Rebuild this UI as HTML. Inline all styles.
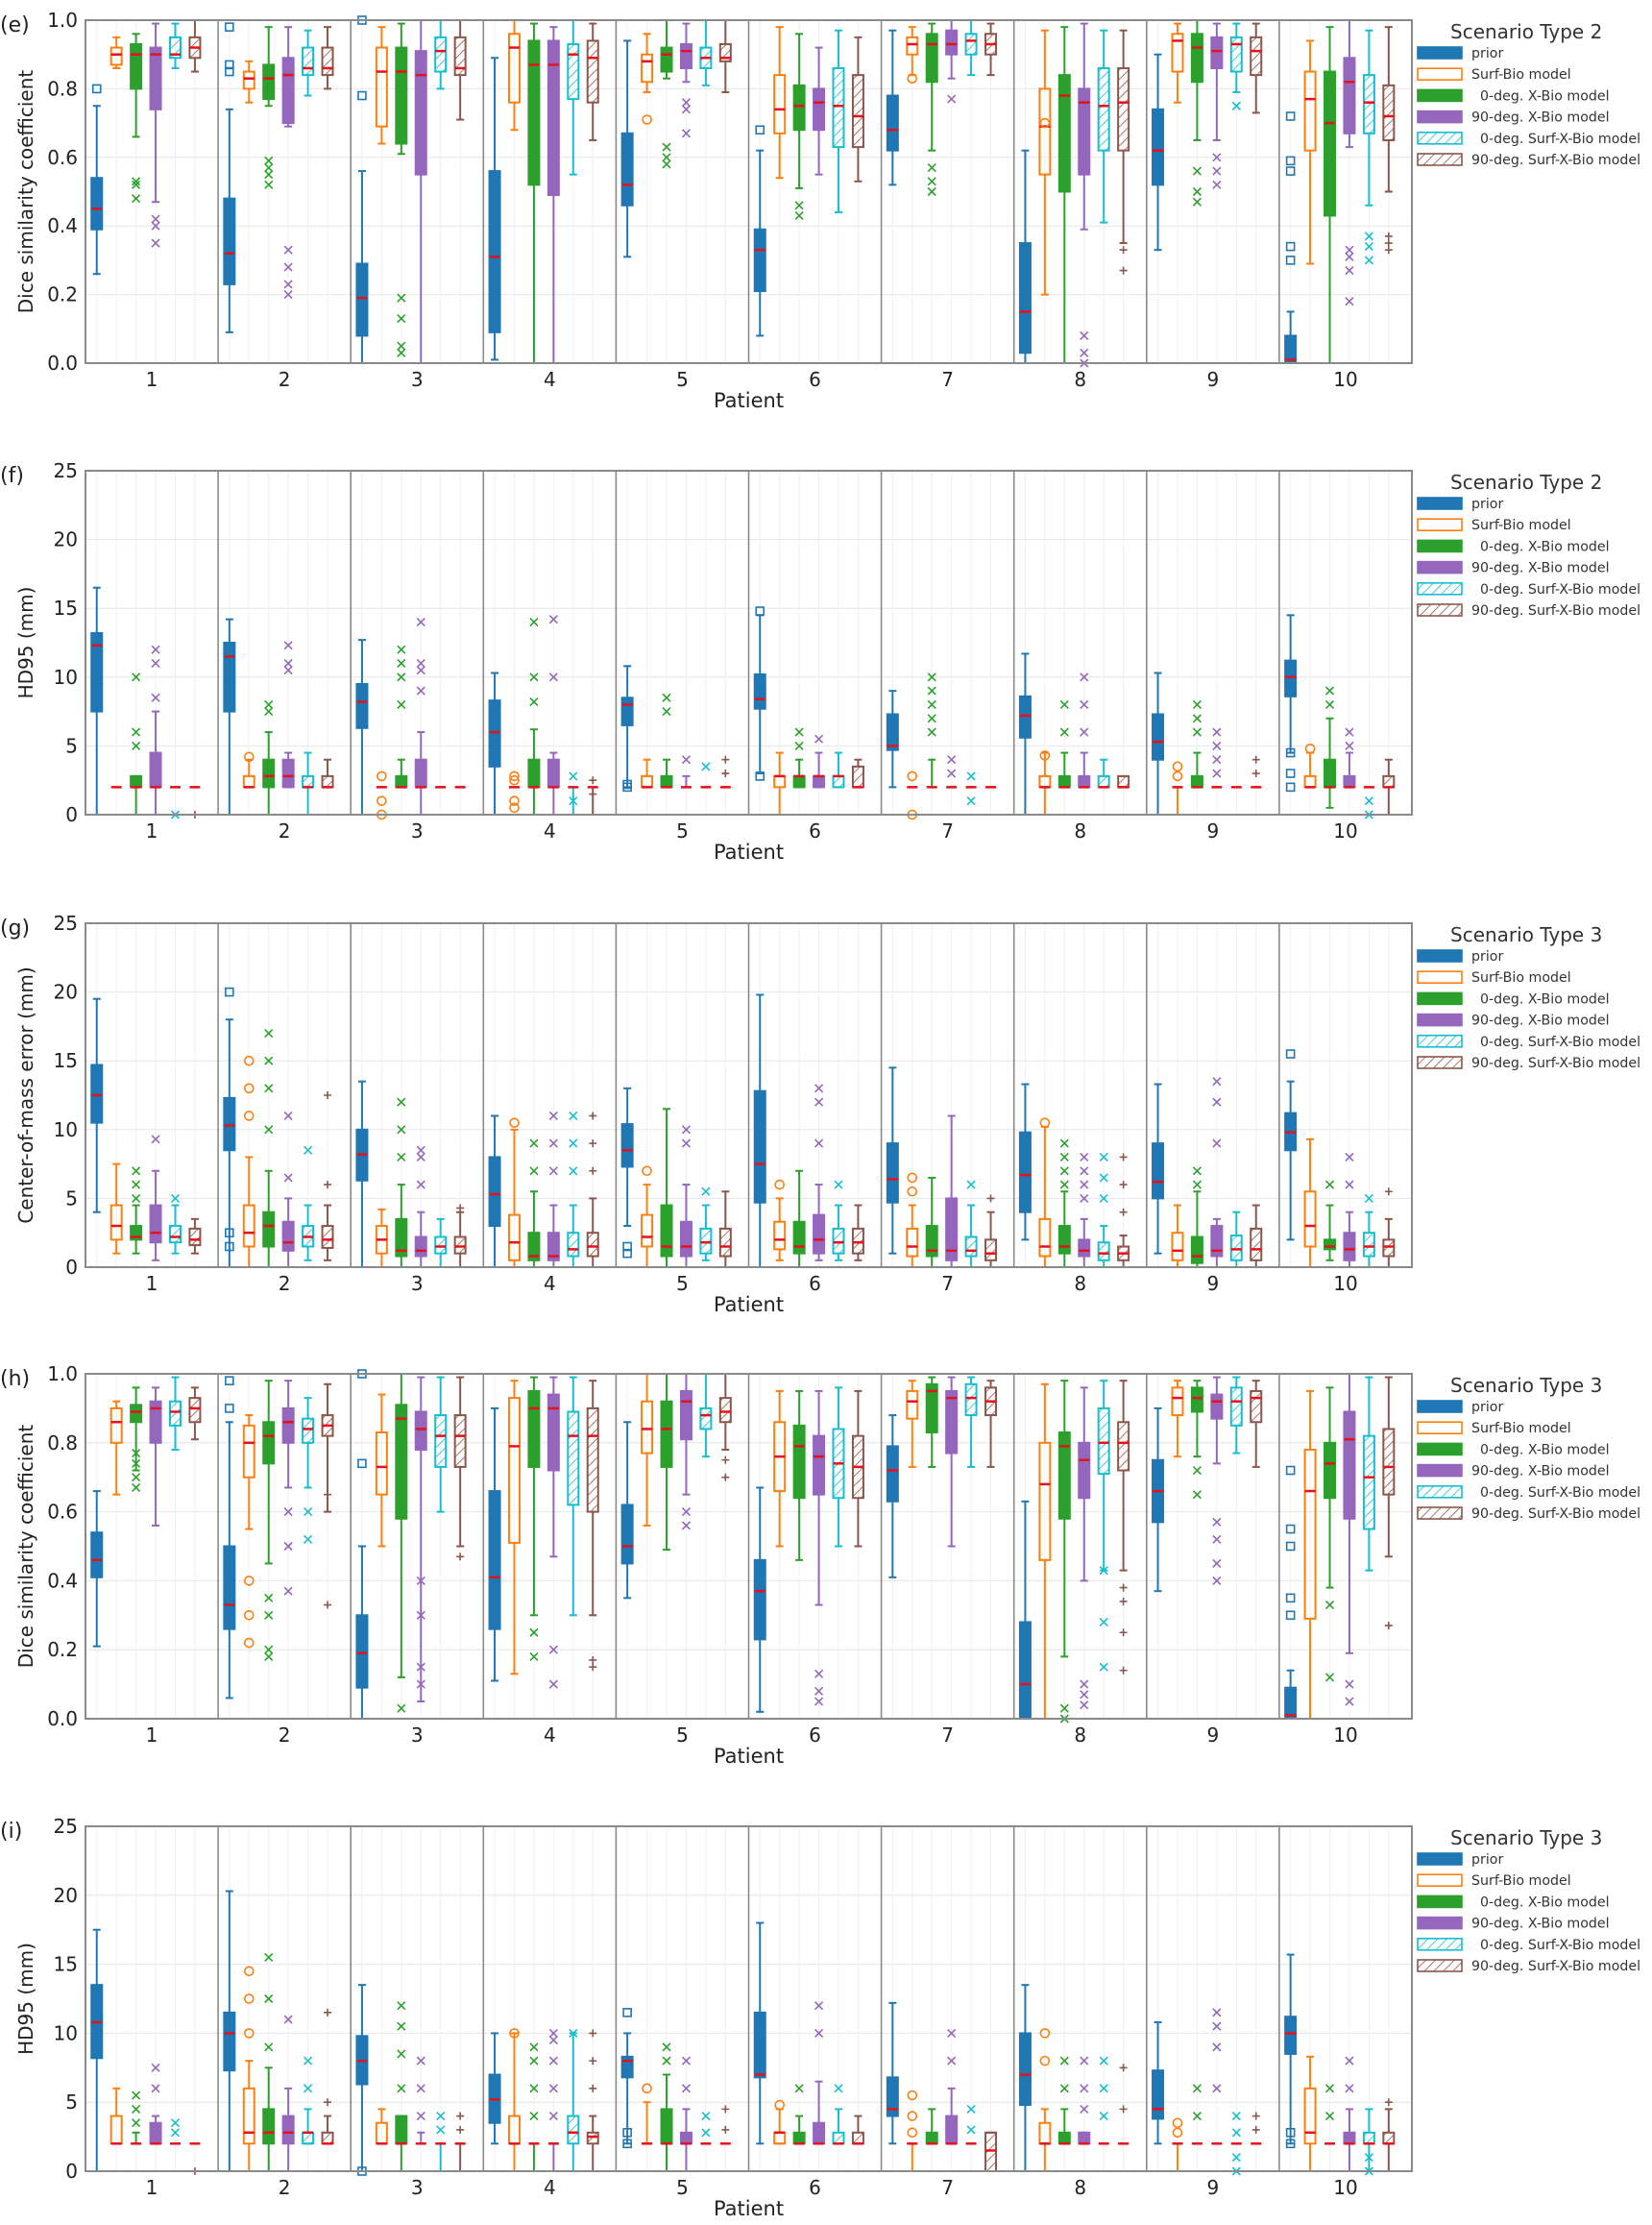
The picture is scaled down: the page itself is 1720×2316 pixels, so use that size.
<!DOCTYPE html>
<html><head><meta charset="utf-8">
<style>
html,body{margin:0;padding:0;background:#fff;}
svg{display:block;font-family:"DejaVu Sans","Liberation Sans",sans-serif;}
</style></head>
<body>
<svg id="s" width="1720" height="2316" viewBox="0 0 1720 2316" xmlns="http://www.w3.org/2000/svg">
<defs>
<pattern id="hc" patternUnits="userSpaceOnUse" width="7" height="7" patternTransform="rotate(45)"><line x1="0" y1="0" x2="0" y2="7" stroke="#17becf" stroke-width="1.6"/></pattern>
<pattern id="hb" patternUnits="userSpaceOnUse" width="7" height="7" patternTransform="rotate(45)"><line x1="0" y1="0" x2="0" y2="7" stroke="#8c564b" stroke-width="1.6"/></pattern>
</defs>
</svg>
<script>
const S=document.getElementById('s');
let out='';
const C=['#1f77b4','#ff7f0e','#2ca02c','#9467bd','#17becf','#8c564b'];
const FILL=['#1f77b4','none','#2ca02c','#9467bd','url(#hc)','url(#hb)'];
const MK=['sq','ci','x','x','x','+'];
const L=89,R=1470,GW=(R-L)/10;
const labels=['prior','Surf-Bio model','  0-deg. X-Bio model','90-deg. X-Bio model','  0-deg. Surf-X-Bio model','90-deg. Surf-X-Bio model'];
function panel(o){
 const top=o.top,bot=o.bot,H=bot-top,max=o.max;
 const Y=v=>bot-v/max*H;
 for(let t=0;t<=max+1e-9;t+=o.step){out+=`<line x1="${L}" x2="${R}" y1="${Y(t)}" y2="${Y(t)}" stroke="#e6e6e6" stroke-width="1"/>`;}
 for(let g=0;g<10;g++)for(let i=0;i<6;i++){const x=L+g*GW+GW*(0.085+i*0.148);out+=`<line x1="${x}" x2="${x}" y1="${top}" y2="${bot}" stroke="#f0f0f0" stroke-width="1"/>`;}
 for(let g=1;g<10;g++){const x=L+g*GW;out+=`<line x1="${x}" x2="${x}" y1="${top}" y2="${bot}" stroke="#8a8a8a" stroke-width="1.6"/>`;}
 o.d.forEach((grp,g)=>{grp.forEach((b,i)=>{
  const x=L+g*GW+GW*(0.085+i*0.148),w=11,c=C[i];
  const [lo,q1,md,q3,hi,outs]=b;
  out+=`<line x1="${x}" x2="${x}" y1="${Y(hi)}" y2="${Y(q3)}" stroke="${c}" stroke-width="2"/>`;
  out+=`<line x1="${x}" x2="${x}" y1="${Y(q1)}" y2="${Y(lo)}" stroke="${c}" stroke-width="2"/>`;
  out+=`<line x1="${x-4}" x2="${x+4}" y1="${Y(hi)}" y2="${Y(hi)}" stroke="${c}" stroke-width="2"/>`;
  out+=`<line x1="${x-4}" x2="${x+4}" y1="${Y(lo)}" y2="${Y(lo)}" stroke="${c}" stroke-width="2"/>`;
  const h=Math.max(Y(q1)-Y(q3),0);
  if(h>0.5)out+=`<rect x="${x-w/2}" y="${Y(q3)}" width="${w}" height="${h}" fill="${FILL[i]}" stroke="${c}" stroke-width="2"/>`;
  out+=`<line x1="${x-w/2}" x2="${x+w/2}" y1="${Y(md)}" y2="${Y(md)}" stroke="#e8101a" stroke-width="2.5"/>`;
  (outs||[]).forEach(v=>{const y=Y(v);
   if(MK[i]=='sq')out+=`<rect x="${x-4}" y="${y-4}" width="8" height="8" fill="none" stroke="${c}" stroke-width="1.6"/>`;
   else if(MK[i]=='ci')out+=`<circle cx="${x}" cy="${y}" r="4.5" fill="none" stroke="${c}" stroke-width="1.6"/>`;
   else if(MK[i]=='x')out+=`<path d="M${x-4} ${y-4}L${x+4} ${y+4}M${x-4} ${y+4}L${x+4} ${y-4}" stroke="${c}" stroke-width="1.6"/>`;
   else out+=`<path d="M${x-4} ${y}L${x+4} ${y}M${x} ${y-4}L${x} ${y+4}" stroke="${c}" stroke-width="1.6"/>`;
  });
 });});
 out+=`<rect x="${L}" y="${top}" width="${R-L}" height="${H}" fill="none" stroke="#8a8a8a" stroke-width="2"/>`;
 for(let t=0;t<=max+1e-9;t+=o.step){const lab=max==1?t.toFixed(1):String(Math.round(t));out+=`<text x="${L-8}" y="${Y(t)+7}" font-size="20" text-anchor="end" fill="#222">${lab}</text>`;}
 for(let g=0;g<10;g++){out+=`<text x="${L+g*GW+GW/2}" y="${bot+24}" font-size="20" text-anchor="middle" fill="#222">${g+1}</text>`;}
 out+=`<text x="${(L+R)/2}" y="${bot+46}" font-size="21" text-anchor="middle" fill="#222">Patient</text>`;
 out+=`<text x="0" y="${top+12}" font-size="22" fill="#222">${o.tag}</text>`;
 out+=`<text transform="translate(34 ${top+H/2}) rotate(-90)" font-size="20" text-anchor="middle" fill="#222">${o.yl}</text>`;
 out+=`<text x="1510" y="${top+19}" font-size="20" fill="#333">${o.leg}</text>`;
 for(let i=0;i<6;i++){const y=top+34+i*22.2;
  out+=`<rect x="1476" y="${y-6}" width="46" height="12" fill="${FILL[i]}" stroke="${C[i]}" stroke-width="1.6"/>`;
  out+=`<text x="1532" y="${y+5}" font-size="14.2" fill="#333" xml:space="preserve">${labels[i]}</text>`;}
}
const E=[
[[.26,.39,.45,.54,.75,[.8]],[.86,.87,.9,.92,.95],[.66,.8,.9,.93,.96,[.48,.52,.53]],[.47,.74,.9,.92,.99,[.35,.4,.42]],[.86,.89,.9,.95,.99],[.85,.89,.92,.95,1]],
[[.09,.23,.32,.48,.74,[.85,.87,.98]],[.76,.8,.83,.85,.88],[.75,.77,.83,.87,.98,[.52,.55,.57,.59]],[.69,.7,.84,.89,.98,[.2,.23,.28,.33]],[.78,.84,.86,.92,.97],[.8,.84,.86,.92,.98]],
[[0,.08,.19,.29,.56,[.78,1]],[.64,.69,.85,.92,.98],[.61,.64,.85,.92,.99,[.03,.05,.13,.19]],[0,.55,.84,.91,1],[.8,.85,.91,.95,1],[.71,.84,.86,.95,1]],
[[.01,.09,.31,.56,.89],[.68,.76,.92,.96,1],[0,.52,.87,.94,.99],[0,.49,.87,.94,.98],[.55,.77,.9,.93,1],[.65,.76,.89,.94,.99]],
[[.31,.46,.52,.67,.94],[.79,.82,.88,.9,.96,[.71]],[.83,.85,.9,.92,1,[.58,.6,.63]],[.82,.86,.91,.93,.99,[.67,.74,.76]],[.81,.86,.89,.92,1],[.79,.88,.89,.93,1]],
[[.08,.21,.33,.39,.62,[.68]],[.54,.67,.74,.84,.98],[.51,.68,.75,.81,.96,[.43,.46]],[.55,.68,.76,.8,.92],[.44,.63,.75,.86,.97],[.53,.63,.72,.84,.95]],
[[.52,.62,.68,.78,.97],[.84,.9,.93,.95,.98,[.83]],[.62,.82,.93,.96,.99,[.5,.53,.57]],[.83,.9,.93,.97,1,[.77]],[.84,.9,.94,.96,1],[.84,.9,.93,.96,.99]],
[[0,.03,.15,.35,.62],[.2,.55,.69,.8,.97,[.7]],[0,.5,.78,.84,.98],[.39,.55,.76,.8,.99,[0,.03,.08]],[.41,.62,.75,.86,.97],[.35,.62,.76,.86,.97,[.27,.33]]],
[[.33,.52,.62,.74,.9],[.76,.85,.94,.96,.99],[.65,.82,.92,.96,1,[.47,.5,.56]],[.65,.86,.91,.95,.99,[.52,.56,.6]],[.79,.85,.93,.95,.99,[.75]],[.73,.84,.91,.95,.99]],
[[0,0,.01,.08,.15,[.3,.34,.56,.59,.72]],[.29,.62,.77,.85,.94],[0,.43,.7,.85,.98],[.63,.67,.82,.89,1,[.18,.27,.31,.33]],[.46,.67,.76,.84,.97,[.3,.34,.37]],[.5,.65,.72,.81,.98,[.33,.35,.37]]]];
const F=[
[[0,7.5,12.3,13.2,16.5],[2,2,2,2,2],[0,2,2,2.8,2.8,[5,6,10]],[0,2,2,4.5,7.5,[8.5,11,12]],[2,2,2,2,2,[0]],[2,2,2,2,2,[0]]],
[[0,7.5,11.5,12.5,14.2],[2,2,2,2.8,4,[4.2]],[0,2,2.8,4,6,[7.5,8]],[2,2,2.8,4,4.5,[10.5,11,12.3]],[0,2,2,2.8,4.5],[2,2,2,2.8,4]],
[[0,6.3,8.2,9.5,12.7],[2,2,2,2,2,[0,1,2.8]],[2,2,2,2.8,4,[8,10,11,12]],[0,2,2,4,6,[9,10.5,11,14]],[2,2,2,2,2],[2,2,2,2,2]],
[[0,3.5,6,8.3,10.3],[2,2,2,2,2,[.5,1,2.5,2.8]],[0,2,2,4,6.2,[8.2,10,14]],[0,2,2,4,4.5,[10,14.2]],[0,2,2,2,2,[1,2.8]],[0,2,2,2,2,[1.5,2.5]]],
[[2,6.5,8,8.5,10.8,[2,2.2]],[2,2,2,2.8,4],[2,2,2,2.8,4,[7.5,8.5]],[2,2,2,2,2.8,[4]],[2,2,2,2,2,[3.5]],[2,2,2,2,2,[3,4]]],
[[3,7.7,8.4,10.2,14.5,[2.8,14.8]],[0,2,2.8,2.8,4.5],[2,2,2.8,2.8,4,[5,6]],[2,2,2.8,2.8,4.5,[5.5]],[2,2,2.8,2.8,4.5],[2,2,2,3.5,4]],
[[2,4.7,5,7.3,9],[2,2,2,2,2,[0,2.8]],[2,2,2,2,4,[6,7,8,9,10]],[2,2,2,2,2,[3,4]],[2,2,2,2,2,[1,2.8]],[2,2,2,2,2]],
[[0,5.6,7.2,8.6,11.7],[0,2,2,2.8,4.5,[4.3]],[2,2,2,2.8,4.5,[6,8]],[2,2,2,2.8,4.5,[6,8,10]],[2,2,2,2.8,4],[2,2,2,2.8,2.8]],
[[0,4,5.3,7.3,10.3],[0,2,2,2,2,[2.8,3.5]],[2,2,2,2.8,4.5,[6,7,8]],[2,2,2,2,2,[3,4,5,6]],[2,2,2,2,2],[2,2,2,2,2,[3,4]]],
[[4.5,8.6,10,11.2,14.5,[2,3,4.5]],[2,2,2,2.8,4.5,[4.8]],[.5,2,2,4,7,[8,9]],[2,2,2,2.8,4.5,[5,6]],[2,2,2,2,2,[0,1]],[0,2,2,2.8,4]]];
const G=[
[[4,10.5,12.5,14.7,19.5],[1,2,3,4.5,7.5],[1,2,2.2,3,4.5,[5,6,7]],[.5,1.8,2.5,4.5,7,[9.3]],[1,1.8,2.2,3,4.5,[5]],[1,1.6,2,2.8,3.5]],
[[0,8.5,10.3,12.3,18,[1.5,2.5,20]],[0,1.5,2.5,4.5,8,[11,13,15]],[0,1.5,3,4,7,[10,13,15,17]],[0,1.2,1.8,3.3,5,[6.5,11]],[.5,1.5,2.2,3,4.5,[8.5]],[.5,1.4,2,3,4.5,[6,12.5]]],
[[0,6.3,8.2,10,13.5],[0,1,2,3,4.2],[0,.8,1.2,3.5,6,[8,10,12]],[0,.8,1.2,2.2,4,[6,8,8.5]],[0,1,1.5,2.2,3.5],[0,1,1.5,2.2,4,[4.3]]],
[[0,3,5.3,8,11],[0,.5,1.8,3.8,10,[10.5]],[0,.5,.8,2.5,5.5,[7,9]],[0,.5,.8,2.5,4.5,[7,9,11]],[0,.8,1.3,2.5,4.5,[7,9,11]],[0,.8,1.5,2.5,5,[7,9,11]]],
[[3,7.3,8.5,10.4,13,[1,1.5]],[0,1.5,2.2,3.8,6,[7]],[0,.8,1.5,4.5,11.5],[0,.8,1.5,3.3,6,[9,10]],[.5,1,1.8,2.8,4.5,[5.5]],[0,.8,1.5,2.8,5.5]],
[[0,4.7,7.5,12.8,19.8],[.5,1.3,2,3.3,5,[6]],[0,1,1.5,3.3,7],[.5,1,2,3.8,6,[9,12,13]],[.5,1,1.8,2.8,4.5,[6]],[.5,1,1.8,2.8,4.5]],
[[1,4.7,6.4,9,14.5],[0,.8,1.5,2.8,4.5,[5.5,6.5]],[0,.8,1.2,3,6.5],[0,.5,1.2,5,11],[0,.8,1.2,2.2,4.5,[6]],[0,.5,1,2,4,[5]]],
[[2,4,6.7,9.8,13.3],[0,.8,1.5,3.5,10.2,[10.5]],[0,1,1.5,3,5.5,[6,7,8,9]],[0,.8,1.2,2,3.5,[5,6,7,8]],[0,.5,1,1.8,3,[5,6.5,8]],[0,.5,1,1.5,2.3,[4,6,8]]],
[[1,5,6.2,9,13.3],[0,.5,1.2,2.5,4.5],[0,.3,.8,2.2,5.5,[6,7]],[0,.8,1.2,3,3.5,[9,12,13.5]],[0,.5,1.3,2.3,4],[0,.5,1.3,2.8,4.5]],
[[2,8.5,9.8,11.2,13.5,[15.5]],[0,1.5,3,5.5,9.3],[.5,1.3,1.5,2,4.5,[6]],[0,.5,1.3,2.5,4,[6,8]],[0,.8,1.5,2.5,4,[5]],[0,.8,1.5,2,3.5,[5.5]]]];
const Hh=[
[[.21,.41,.46,.54,.66],[.65,.8,.86,.9,.92],[.72,.86,.89,.91,.96,[.67,.7,.74,.77]],[.56,.8,.9,.92,.96],[.78,.85,.89,.92,.99],[.81,.86,.9,.93,.96]],
[[.06,.26,.33,.5,.86,[.9,.98]],[.55,.7,.8,.85,.88,[.22,.3,.4]],[.45,.74,.82,.86,.98,[.18,.2,.3,.35]],[.67,.8,.86,.9,.98,[.37,.5,.6]],[.67,.8,.84,.87,.93,[.52,.6]],[.6,.82,.85,.88,.97,[.33,.65]]],
[[0,.09,.19,.3,.5,[.74,1]],[.5,.65,.73,.83,.94],[.12,.58,.87,.91,1,[.03]],[.05,.78,.84,.89,.99,[.1,.15,.3,.4]],[.6,.73,.82,.88,.99],[.5,.73,.82,.88,.99,[.47]]],
[[.11,.26,.41,.66,.9],[.13,.51,.79,.93,.98],[.3,.73,.9,.95,.99,[.18,.25]],[.47,.72,.9,.94,.99,[.1,.2]],[.3,.62,.82,.89,.99],[.3,.6,.82,.9,.98,[.15,.17]]],
[[.35,.45,.5,.62,.86],[.56,.77,.84,.92,1],[.49,.73,.84,.92,1],[.65,.81,.92,.95,1,[.56,.6]],[.76,.84,.88,.9,1],[.78,.86,.89,.93,1,[.7,.75]]],
[[.02,.23,.37,.46,.67],[.5,.66,.76,.86,.95],[.46,.64,.79,.85,.95],[.33,.65,.76,.82,.95,[.05,.08,.13]],[.5,.64,.74,.84,.96],[.5,.64,.73,.82,.95]],
[[.41,.63,.72,.79,.88],[.73,.87,.92,.95,.98],[.73,.83,.95,.97,.99],[.5,.77,.93,.95,.99],[.73,.88,.93,.97,.99],[.73,.88,.92,.96,.98]],
[[0,0,.1,.28,.63],[0,.46,.68,.8,.97],[.18,.58,.79,.83,.98,[0,.03]],[.4,.64,.75,.8,.96,[.04,.07,.1]],[.43,.71,.8,.9,.98,[.15,.28,.43]],[.43,.72,.8,.86,.98,[.14,.25,.34,.38]]],
[[.37,.57,.66,.75,.9],[.76,.88,.93,.96,.98],[.76,.89,.93,.96,.98,[.65,.72]],[.74,.87,.92,.94,.99,[.4,.45,.52,.57]],[.77,.85,.92,.96,.99],[.73,.86,.93,.95,.98]],
[[0,0,.01,.09,.14,[.3,.35,.5,.55,.72]],[0,.29,.66,.78,.95],[.38,.64,.74,.8,.96,[.12,.33]],[.19,.58,.81,.89,1,[.05,.1]],[.43,.55,.7,.82,.99],[.47,.65,.73,.84,.99,[.27]]]];
const I=[
[[0,8.2,10.8,13.5,17.5],[2,2,2,4,6],[2,2,2,2,2.8,[3.5,4.5,5.5]],[2,2,2,3.5,4,[6,7.5]],[2,2,2,2,2,[2.8,3.5]],[2,2,2,2,2,[0]]],
[[0,7.3,10,11.5,20.3],[0,2,2.8,6,8,[10,12.5,14.5]],[0,2,2.8,4.5,7.5,[9,12.5,15.5]],[0,2,2.8,4,6,[11]],[2,2,2.8,2.8,4.5,[6,8]],[2,2,2,2.8,4,[5,11.5]]],
[[0,6.3,8,9.8,13.5,[0]],[2,2,2,3.5,4.5],[0,2,2,4,4,[6,8.5,10.5,12]],[2,2,2,2,2.8,[4,6,8]],[0,2,2,2,2,[3,4]],[0,2,2,2,2,[3,4]]],
[[2,3.5,5.2,7,10],[0,2,2,4,10,[10]],[0,2,2,2,2,[4,6,8,9]],[0,2,2,2,2,[4,6,8,9.5,10]],[0,2,2.8,4,10,[10]],[0,2,2.5,2.8,4,[6,8,10]]],
[[2,6.8,8,8.3,10,[2,2.8,11.5]],[2,2,2,2,5,[6]],[0,2,2,4.5,7,[8,9]],[0,2,2,2.8,4.5,[6,8]],[2,2,2,2,2,[2.8,4]],[2,2,2,2,2,[3,4.5]]],
[[2,6.8,7,11.5,18],[2,2,2.8,2.8,4.5,[4.8]],[2,2,2,2.8,4,[6]],[2,2,2,3.5,6.5,[10,12]],[2,2,2,2.8,4.5,[6]],[2,2,2,2.8,4]],
[[2,4,4.5,6.8,12.2],[0,2,2,2,2,[2.8,4,5.5]],[2,2,2,2.8,4.5],[2,2,2,4,6,[8,10]],[2,2,2,2,2,[3,4.5]],[0,0,1.5,2.8,2.8]],
[[0,4.8,7,10,13.5],[0,2,2,3.5,4.5,[8,10]],[2,2,2,2.8,4.5,[6,8]],[2,2,2,2.8,2.8,[4.5,6,8]],[2,2,2,2,2,[4,6,8]],[2,2,2,2,2,[4.5,7.5]]],
[[2,3.8,4.5,7.3,10.8],[0,2,2,2,2,[2.8,3.5]],[2,2,2,2,2,[4,6]],[2,2,2,2,2,[6,9,10.5,11.5]],[2,2,2,2,2,[0,1,2.8,4]],[2,2,2,2,2,[3,4]]],
[[2,8.5,10,11.2,15.7,[2,2.8]],[0,2,2.8,6,8.3],[2,2,2,2,2,[4,6]],[0,2,2,2.8,4.5,[6,8]],[0,2,2,2.8,4.5,[0,1]],[0,2,2,2.8,4.5,[5]]]];
panel({top:21,bot:378,max:1,step:.2,d:E,tag:'(e)',yl:'Dice similarity coefficient',leg:'Scenario Type 2'});
panel({top:490,bot:848,max:25,step:5,d:F,tag:'(f)',yl:'HD95 (mm)',leg:'Scenario Type 2'});
panel({top:961,bot:1319,max:25,step:5,d:G,tag:'(g)',yl:'Center-of-mass error (mm)',leg:'Scenario Type 3'});
panel({top:1430,bot:1789,max:1,step:.2,d:Hh,tag:'(h)',yl:'Dice similarity coefficient',leg:'Scenario Type 3'});
panel({top:1901,bot:2260,max:25,step:5,d:I,tag:'(i)',yl:'HD95 (mm)',leg:'Scenario Type 3'});
S.insertAdjacentHTML('beforeend',out);
</script>
</body></html>
